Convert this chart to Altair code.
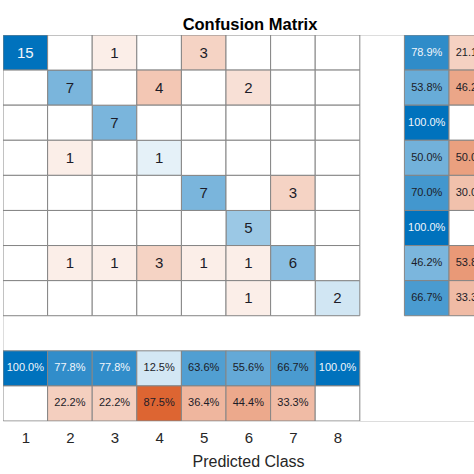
import altair as alt
import pandas as pd

classes = [1, 2, 3, 4, 5, 6, 7, 8]
counts = [
    [15, 0, 1, 0, 3, 0, 0, 0],
    [0, 7, 0, 4, 0, 2, 0, 0],
    [0, 0, 7, 0, 0, 0, 0, 0],
    [0, 1, 0, 1, 0, 0, 0, 0],
    [0, 0, 0, 0, 7, 0, 3, 0],
    [0, 0, 0, 0, 0, 5, 0, 0],
    [0, 1, 1, 3, 1, 1, 6, 0],
    [0, 0, 0, 0, 0, 1, 0, 2],
]
row_correct = [78.9, 53.8, 100.0, 50.0, 70.0, 100.0, 46.2, 66.7]
row_wrong = [21.1, 46.2, 0.0, 50.0, 30.0, 0.0, 53.8, 33.3]
col_correct = [100.0, 77.8, 77.8, 12.5, 63.6, 55.6, 66.7, 100.0]
col_wrong = [0.0, 22.2, 22.2, 87.5, 36.4, 44.4, 33.3, 0.0]

max_count = max(max(r) for r in counts)
recs = []
for i, row in enumerate(counts):
    for j, v in enumerate(row):
        recs.append(dict(x=classes[j], y=classes[i], t=v / max_count,
                         kind="blue" if i == j else "orange",
                         label=str(v) if v > 0 else "", ttype="count"))
# row summary (right), columns 10 and 11
for i in range(8):
    for k, (vals, kind) in enumerate([(row_correct, "blue"), (row_wrong, "orange")]):
        v = vals[i]
        recs.append(dict(x=10 + k, y=classes[i], t=v / 100, kind=kind,
                         label=f"{v:.1f}%" if v > 0 else "", ttype="pct"))
# column summary (bottom), rows 10 and 11
for j in range(8):
    for k, (vals, kind) in enumerate([(col_correct, "blue"), (col_wrong, "orange")]):
        v = vals[j]
        recs.append(dict(x=classes[j], y=10 + k, t=v / 100, kind=kind,
                         label=f"{v:.1f}%" if v > 0 else "", ttype="pct"))

df = pd.DataFrame(recs)

xs = alt.Scale(domain=[0.5, 11.06], nice=False, zero=False)
ys = alt.Scale(domain=[0.5, 11.5], nice=False, zero=False, reverse=True)
FONT = "Liberation Sans"

base = alt.Chart(df).transform_calculate(
    x0="datum.x - 0.5", x1="datum.x + 0.5", y0="datum.y - 0.5", y1="datum.y + 0.5"
)

def rect_layer(kind, col):
    return base.transform_filter(alt.datum.kind == kind).mark_rect(
        stroke="#858585", strokeWidth=1, clip=True
    ).encode(
        x=alt.X("x0:Q", scale=xs, axis=alt.Axis(
            values=classes, title="Predicted Class", grid=False, domain=False,
            ticks=False, labelFontSize=15, labelFont=FONT, labelColor="#262626",
            labelPadding=9, titleFont=FONT, titleFontSize=16, titleFontWeight="normal",
            titleColor="#262626", titleX=245, titleY=45, titleBaseline="alphabetic")),
        x2="x1:Q",
        y=alt.Y("y0:Q", scale=ys, axis=None),
        y2="y1:Q",
        color=alt.Color("t:Q", scale=alt.Scale(type="pow", exponent=0.85, domain=[0, 1],
                                               range=["#ffffff", col], interpolate="rgb"),
                        legend=None),
    )

blue = rect_layer("blue", "#0072BD")
orange = rect_layer("orange", "#D95319")

txt_color = alt.condition("datum.t > 0.75 && datum.kind == 'blue'",
                          alt.value("#f2f6fb"), alt.value("#1c1c28"))

count_text = base.transform_filter(alt.datum.ttype == "count").mark_text(
    font=FONT, fontSize=15, clip=True
).encode(
    x=alt.X("x:Q", scale=xs), y=alt.Y("y:Q", scale=ys), text="label:N", color=txt_color
)
pct_text = base.transform_filter(alt.datum.ttype == "pct").mark_text(
    font=FONT, fontSize=11, clip=True
).encode(
    x=alt.X("x:Q", scale=xs), y=alt.Y("y:Q", scale=ys), text="label:N", color=txt_color
)

chart = alt.layer(blue, orange, count_text, pct_text).resolve_scale(
    color="independent"
).properties(
    width=471, height=386,
    title=alt.TitleParams("Confusion Matrix", font=FONT, fontSize=16.5, fontWeight="bold",
                          color="#000000", anchor="middle", dx=11.5, dy=15,
                          baseline="alphabetic", offset=4),
    autosize=alt.AutoSizeParams(type="none"),
    padding={"left": 3, "top": 35, "right": 0, "bottom": 53},
).configure_view(stroke=None).configure(background="white")

chart.save("out.html", embed_options={"renderer": "svg", "actions": False})
